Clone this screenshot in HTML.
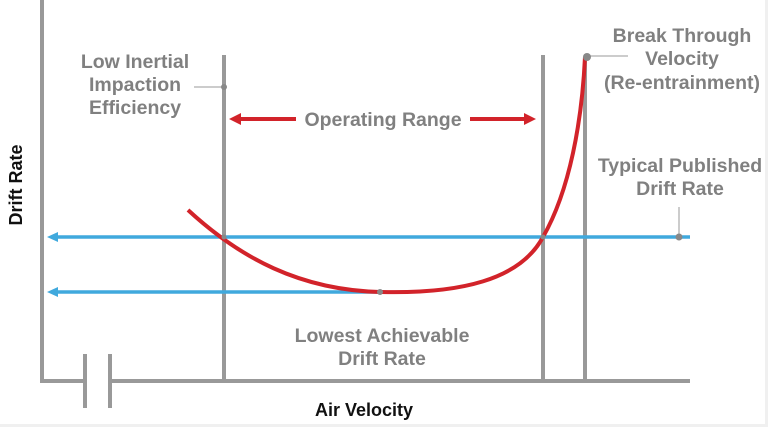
<!DOCTYPE html>
<html><head><meta charset="utf-8"><style>
html,body{margin:0;padding:0;background:#fff;width:768px;height:427px;overflow:hidden}
text{font-family:"Liberation Sans",Arial,sans-serif;font-weight:bold}
</style></head><body>
<svg width="768" height="427" viewBox="0 0 768 427" xmlns="http://www.w3.org/2000/svg">
<rect x="0" y="0" width="768" height="427" fill="#fff"/>
<rect x="765" y="0" width="3" height="427" fill="#f0f0f0"/>
<rect x="0" y="424" width="768" height="3" fill="#f0f0f0"/>
<g stroke="#999" stroke-width="4" fill="none">
<path d="M42 0 V381 H85 M110 381 H690"/>
<path d="M85 354 V408 M110 354 V408"/>
<path d="M224 55 V381 M543 55 V381 M585 57 V381"/>
</g>
<g stroke="#999" stroke-width="1">
<path d="M194 87 H224 M587 56 H628 M679 207 V237"/>
</g>
<g stroke="#40a9dd" stroke-width="3.5" fill="none">
<path d="M56 237 H690 M56 292 H380"/>
</g>
<g fill="#40a9dd"><path d="M47 237 L58 232 L58 242Z M47 292 L58 287 L58 297Z"/></g>
<path d="M188 210 C240 258 300 290 380 292 C460 294 520 280 543 237 C570 190 582 120 585 57" stroke="#d2232a" stroke-width="4" fill="none"/>
<g stroke="#d2232a" stroke-width="4"><path d="M238 119 H296 M470 119 H527"/></g>
<g fill="#d2232a"><path d="M229 119 L241 113 L241 125Z M536 119 L524 113 L524 125Z"/></g>
<g fill="#888"><circle cx="224" cy="87" r="3"/><circle cx="587" cy="57" r="4"/><circle cx="679" cy="237" r="3.5"/><circle cx="380" cy="292" r="3"/><circle cx="224" cy="237" r="2.5"/><circle cx="543" cy="237" r="2.5"/></g>
<g fill="#808080" font-size="19.5" text-anchor="middle">
<text x="135" y="68">Low Inertial</text>
<text x="135" y="91">Impaction</text>
<text x="135" y="114">Efficiency</text>
<text x="383" y="126">Operating Range</text>
<text x="682" y="42">Break Through</text>
<text x="682" y="65">Velocity</text>
<text x="682" y="89">(Re-entrainment)</text>
<text x="680" y="172">Typical Published</text>
<text x="680" y="195">Drift Rate</text>
<text x="382" y="342">Lowest Achievable</text>
<text x="382" y="365">Drift Rate</text>
</g>
<text x="364" y="416" font-size="18" fill="#111" text-anchor="middle">Air Velocity</text>
<text transform="translate(22 185) rotate(-90)" font-size="18" fill="#111" text-anchor="middle">Drift Rate</text>
</svg>
</body></html>
